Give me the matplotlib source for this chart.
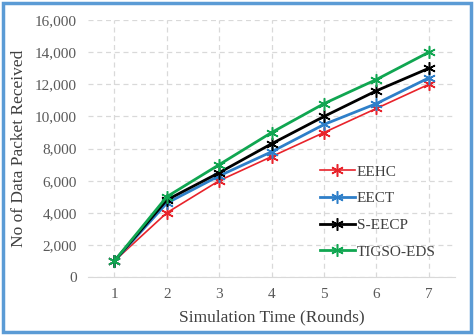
import numpy as np
import matplotlib
matplotlib.use("Agg")
from matplotlib import pyplot as plt
from matplotlib.patches import Rectangle
from matplotlib.ticker import FuncFormatter

plt.rcParams["font.family"] = "Liberation Serif"

rounds = [1, 2, 3, 4, 5, 6, 7]
eehc = [1000, 4000, 6000, 7500, 9000, 10500, 12000]
eect = [1000, 4600, 6300, 7800, 9500, 10800, 12400]
s_eecp = [1000, 4800, 6500, 8300, 10000, 11600, 13000]
tigso_eds = [1000, 5000, 7000, 9000, 10800, 12300, 14000]

series = [
    ("EEHC", eehc, "#E8232B", 1.2),
    ("EECT", eect, "#2E7FC9", 2.0),
    ("S-EECP", s_eecp, "#000000", 2.0),
    ("TIGSO-EDS", tigso_eds, "#10A651", 2.0),
]

fig = plt.figure(figsize=(4.74, 3.35), dpi=100)
ax = fig.add_axes([0.186, 0.173, 0.774, 0.767])

for name, vals, col, lw in series:
    ax.plot(rounds, vals, color=col, lw=lw, marker=(6, 2, 0), ms=9,
            mew=1.1, label=name)

ax.set_xlim(0.5, 7.5)
ax.set_ylim(0, 16000)
ax.set_yticks(np.arange(0, 16001, 2000))
ax.set_xticks(rounds)
ax.yaxis.set_major_formatter(FuncFormatter(lambda v, p: f"{int(v):,}"))
ax.tick_params(length=0, labelsize=11, colors="#595959", pad=8)

# dashed grey grid like the Excel chart
ax.grid(True, color="#D9D9D9", ls=(0, (4, 3)), lw=0.9)
ax.set_axisbelow(True)
for s in ["top", "right", "left"]:
    ax.spines[s].set_visible(False)
ax.spines["bottom"].set_color("#D9D9D9")

ax.set_xlabel("Simulation Time (Rounds)", fontsize=12.5, color="#404040", labelpad=6)
ax.set_ylabel("No of Data Packet Received", fontsize=12.5, color="#404040", labelpad=6)

leg = ax.legend(loc="upper left", bbox_to_anchor=(0.615, 0.46), frameon=False,
                fontsize=11, labelspacing=0.85, handlelength=2.3,
                handletextpad=0.1, borderaxespad=0)
for t in leg.get_texts():
    t.set_color("#404040")

# blue frame around the whole picture
fig.patches.append(Rectangle((0.006, 0.01), 0.988, 0.98, transform=fig.transFigure,
                             fill=False, ec="#5B9BD5", lw=2.5))

fig.savefig("out.png", dpi=100)
